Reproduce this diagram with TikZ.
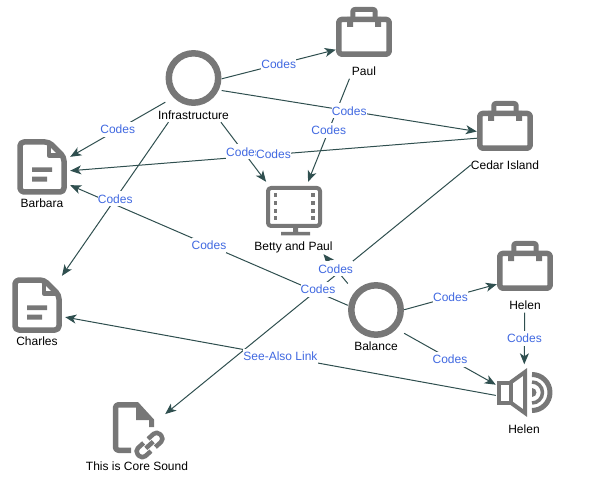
\documentclass[tikz,border=0pt]{standalone}
\usepackage{fontspec}
\setmainfont{Liberation Sans}
\usetikzlibrary{positioning,arrows.meta}
\definecolor{icongray}{HTML}{777777}
\definecolor{linkteal}{HTML}{2F4F4F}
\definecolor{linkblue}{HTML}{4169E1}

\begin{document}
\begin{tikzpicture}[
    x=1pt, y=-1pt,
    font=\fontsize{12}{14}\selectfont,
    entity/.style={rectangle, inner sep=0pt, minimum width=56pt, minimum height=72pt},
    namelabel/.style={inner sep=0pt, minimum height=14pt, text=black},
    link/.style={draw=linkteal, line width=1pt, -{Stealth[length=11pt, width=9pt, inset=3pt]}},
    linklabel/.style={fill=white, inner sep=0pt, minimum height=15pt, text=linkblue},
    iconline/.style={draw=icongray, line width=5.5pt, line join=round},
    ringpic/.pic={
        \draw[iconline, line width=6.5pt] (0,0) circle[radius=24.7];
    },
    casepic/.pic={
        \draw[iconline, rounded corners=3pt] (-25.2,-12.6) rectangle (25.2,22.2);
        \draw[iconline, line width=5pt, rounded corners=2pt] (-11.2,-14) -- (-11.2,-22.5) -- (11.2,-22.5) -- (11.2,-14);
        \fill[icongray] (-17,-15) rectangle (-11,-5) (11,-15) rectangle (17,-5);
    },
    docpic/.pic={
        \draw[iconline, rounded corners=4pt] (-22,-25) -- (7,-25) -- (22,-10) -- (22,25) -- (-22,25) -- cycle;
        \draw[iconline, line width=4.5pt] (7,-24) -- (7,-11.5) -- (21,-11.5);
        \fill[icongray] (-10,0.3) rectangle (10,5) (-10,9.7) rectangle (5,14.7);
    },
    linkdocpic/.pic={
        \draw[iconline, rounded corners=3pt] (-3,22.25) -- (-18.5,22.25) -- (-18.5,-23.25) -- (2,-23.25);
        \fill[icongray] (2,-26) -- (4,-26) -- (20,-8.5) -- (20,-1) -- (15,-1) -- (15,-8) -- (2,-8) -- cycle;
        \begin{scope}[shift={(15.5,17)}, rotate=42]
            \draw[iconline, line width=4.5pt, rounded corners=4.5pt] (-3,-5.5) -- (-15,-5.5) -- (-15,5.5) -- (-3,5.5);
            \draw[iconline, line width=4.5pt, rounded corners=4.5pt] (3,-5.5) -- (15,-5.5) -- (15,5.5) -- (3,5.5);
            \draw[iconline, line width=4.5pt] (-5,0) -- (5,0);
        \end{scope}
    },
    screenpic/.pic={
        \draw[iconline, line width=4pt, rounded corners=3pt] (-26,-23) rectangle (26,15);
        \foreach \dotrow in {-16,-8,0,7} {
            \fill[icongray] (-20.5,\dotrow-1.8) rectangle (-17,\dotrow+1.8);
            \fill[icongray] (17,\dotrow-1.8) rectangle (20.5,\dotrow+1.8);
        }
        \fill[icongray] (-1,17) rectangle (4,22) (-13,21) rectangle (16,24.5);
    },
    soundpic/.pic={
        \draw[iconline, line width=4pt, line join=miter] (-13.5,-10) -- (-25,-10) -- (-25,10) -- (-13.5,10) -- cycle;
        \draw[iconline, line width=4pt, line join=miter] (-13.5,-10) -- (1,-20.5) -- (1,20.5) -- (-13.5,10);
        \draw[iconline, line width=5pt] (8,-18) arc[start angle=-90, end angle=90, radius=18];
        \draw[iconline, line width=3.5pt] (8,-10.5) arc[start angle=-90, end angle=90, radius=10.5];
        \fill[icongray] (8,-4.5) arc[start angle=-90, end angle=90, radius=4.5] -- cycle;
    },
]

\useasboundingbox (0,0) rectangle (597,481);

\node[entity] (infra) at (193.5,86) {};
\node[entity] (paul) at (364,42.5) {};
\node[entity] (cedar) at (505,136) {};
\node[entity, minimum height=74pt] (barbara) at (42,173) {};
\node[entity] (charles) at (37,312) {};
\node[entity, minimum width=80pt] (betty) at (293.5,218) {};
\node[entity] (balance) at (376,317.5) {};
\node[entity] (helencase) at (525,276.5) {};
\node[entity] (helensound) at (524,400.5) {};
\node[entity] (core) at (137,437) {};

\node[namelabel, above=0pt of infra.south] (infralabel) {Infrastructure};
\node[namelabel, above=0pt of paul.south] (paullabel) {Paul};
\node[namelabel, above=0pt of cedar.south] (cedarlabel) {Cedar Island};
\node[namelabel, above=0pt of barbara.south] (barbaralabel) {Barbara};
\node[namelabel, above=0pt of charles.south] (charleslabel) {Charles};
\node[namelabel, above=0pt of betty.south] (bettylabel) {Betty and Paul};
\node[namelabel, above=0pt of balance.south] (balancelabel) {Balance};
\node[namelabel, above=0pt of helencase.south] (helencaselabel) {Helen};
\node[namelabel, above=0pt of helensound.south] (helensoundlabel) {Helen};
\node[namelabel, above=0pt of core.south] (corelabel) {This is Core Sound};

\pic at (193.5,78) {ringpic};
\pic at (376,310) {ringpic};
\pic at (364,32) {casepic};
\pic at (505,126) {casepic};
\pic at (525,266) {casepic};
\pic at (42,167) {docpic};
\pic at (37,305) {docpic};
\pic at (134,428) {linkdocpic};
\pic at (294,211) {screenpic};
\pic at (524,392.5) {soundpic};

\foreach \from/\to in {infra/paul, infra/cedar, infra/barbara, infra/charles, infra/betty,
    paul/betty, cedar/barbara, cedarlabel.west/core, balance/betty, balance/barbara,
    balance/helencase, balance/helensound, helencase/helensound, helensound/charles}
    \draw[link] (\from) -- (\to);

\foreach \from/\to/\kind in {infra/paul/Codes, infra/cedar/Codes, infra/barbara/Codes,
    infra/charles/Codes, infra/betty/Codes, paul/betty/Codes, cedar/barbara/Codes,
    cedarlabel.west/core/Codes, balance/betty/Codes, balance/barbara/Codes,
    balance/helencase/Codes, balance/helensound/Codes, helencase/helensound/Codes,
    helensound/charles/See-Also Link}
    \path (\from) -- node[linklabel] {\kind} (\to);

\end{tikzpicture}
\end{document}
